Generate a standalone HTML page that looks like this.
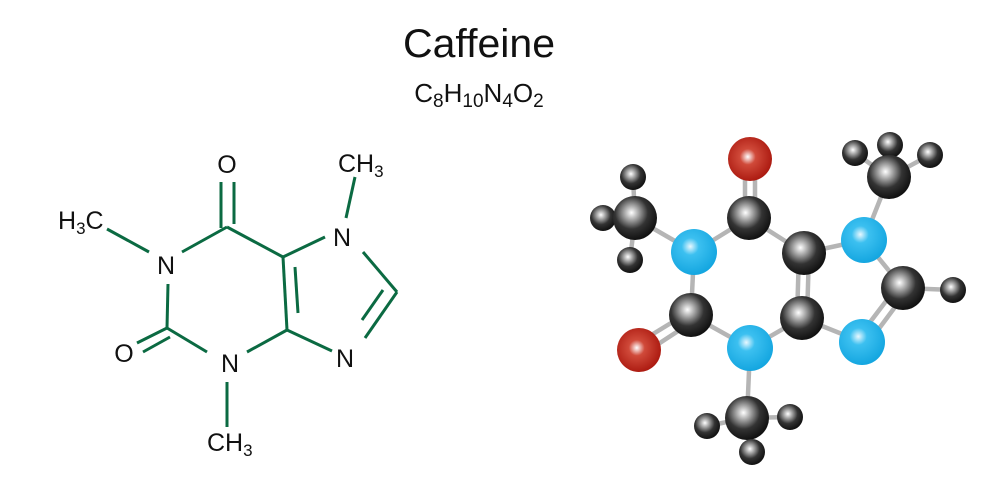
<!DOCTYPE html>
<html><head><meta charset="utf-8"><style>
html,body{margin:0;padding:0;background:#fff;width:1000px;height:500px;overflow:hidden}
svg{display:block}
text{font-family:"Liberation Sans",sans-serif;fill:#111}
</style></head><body>
<svg width="1000" height="500" viewBox="0 0 1000 500" xmlns="http://www.w3.org/2000/svg">
<defs>
<radialGradient id="gC" cx="0.42" cy="0.38" r="0.62"><stop offset="0" stop-color="#fff"/><stop offset="0.25" stop-color="#aaa"/><stop offset="0.6" stop-color="#333"/><stop offset="1" stop-color="#111"/></radialGradient>
<radialGradient id="gN" cx="0.42" cy="0.38" r="0.62"><stop offset="0" stop-color="#e8f8ff"/><stop offset="0.3" stop-color="#3cc0f0"/><stop offset="1" stop-color="#14a6e0"/></radialGradient>
<radialGradient id="gO" cx="0.45" cy="0.45" r="0.6"><stop offset="0" stop-color="#fff"/><stop offset="0.3" stop-color="#d04a3a"/><stop offset="1" stop-color="#a8150c"/></radialGradient>
</defs>
<text x="479" y="57" font-size="40" text-anchor="middle" textLength="152" lengthAdjust="spacingAndGlyphs">Caffeine</text>
<text x="479" y="102" font-size="26" text-anchor="middle">C<tspan font-size="19" dy="5">8</tspan><tspan dy="-5">H</tspan><tspan font-size="19" dy="5">10</tspan><tspan dy="-5">N</tspan><tspan font-size="19" dy="5">4</tspan><tspan dy="-5">O</tspan><tspan font-size="19" dy="5">2</tspan></text>

<g stroke="#0b6a42" stroke-width="3" fill="none" stroke-linecap="butt">
<line x1="221" y1="182" x2="221" y2="228"/><line x1="234" y1="182" x2="234" y2="224"/>
<line x1="107" y1="229" x2="149" y2="252"/>
<line x1="182" y1="252" x2="227" y2="227"/>
<line x1="227" y1="227" x2="283" y2="257"/>
<line x1="283" y1="257" x2="325" y2="237"/>
<line x1="346" y1="218" x2="355" y2="177"/>
<line x1="363" y1="252" x2="397" y2="292"/>
<line x1="397" y1="292" x2="365" y2="338"/><line x1="383" y1="290" x2="362" y2="320"/>
<line x1="287" y1="330" x2="332" y2="351"/>
<line x1="283" y1="257" x2="287" y2="330"/><line x1="295" y1="267" x2="298" y2="313"/>
<line x1="287" y1="330" x2="247" y2="352"/>
<line x1="227" y1="382" x2="227" y2="427"/>
<line x1="167" y1="328" x2="207" y2="352"/>
<line x1="168" y1="284" x2="167" y2="328"/>
<line x1="167" y1="328" x2="137" y2="343"/><line x1="143" y1="352" x2="170" y2="337"/>
</g>
<g font-size="25">
<text x="227" y="173" text-anchor="middle">O</text>
<text x="166" y="274" text-anchor="middle">N</text>
<text x="342" y="246" text-anchor="middle">N</text>
<text x="345" y="367" text-anchor="middle">N</text>
<text x="230" y="372" text-anchor="middle">N</text>
<text x="124" y="362" text-anchor="middle">O</text>
<text x="58" y="229">H<tspan font-size="17" dy="5">3</tspan><tspan dy="-5">C</tspan></text>
<text x="338" y="172">CH<tspan font-size="17" dy="5">3</tspan></text>
<text x="207" y="451">CH<tspan font-size="17" dy="5">3</tspan></text>
</g>

<g id="bonds" stroke-linecap="round">
<g stroke="#b5b5b5" stroke-width="4.5">
<line x1="745" y1="160" x2="745" y2="218"/><line x1="755" y1="160" x2="755" y2="218"/>
<line x1="635" y1="218" x2="633" y2="177"/><line x1="635" y1="218" x2="603" y2="218"/><line x1="635" y1="218" x2="630" y2="260"/>
<line x1="635" y1="218" x2="694" y2="252"/><line x1="694" y1="252" x2="749" y2="218"/>
<line x1="749" y1="218" x2="804" y2="253"/><line x1="694" y1="252" x2="691" y2="315"/>
<line x1="689" y1="312" x2="635" y2="345"/><line x1="695" y1="320" x2="643" y2="354"/>
<line x1="691" y1="315" x2="750" y2="348"/><line x1="750" y1="348" x2="802" y2="318"/>
<line x1="750" y1="348" x2="747" y2="418"/>
<line x1="747" y1="418" x2="707" y2="426"/><line x1="747" y1="418" x2="790" y2="417"/><line x1="747" y1="418" x2="752" y2="452"/>
<line x1="799" y1="253" x2="797" y2="318"/><line x1="809" y1="253" x2="807" y2="318"/>
<line x1="804" y1="253" x2="864" y2="240"/><line x1="802" y1="318" x2="862" y2="342"/>
<line x1="864" y1="240" x2="889" y2="177"/><line x1="864" y1="240" x2="903" y2="288"/>
<line x1="899" y1="284" x2="858" y2="338"/><line x1="907" y1="291" x2="866" y2="346"/>
<line x1="903" y1="288" x2="953" y2="290"/>
<line x1="889" y1="177" x2="855" y2="153"/><line x1="889" y1="177" x2="890" y2="145"/><line x1="889" y1="177" x2="930" y2="155"/>
</g>
</g>
<g>
<circle cx="633" cy="177" r="13" fill="url(#gC)"/><circle cx="603" cy="218" r="13" fill="url(#gC)"/><circle cx="630" cy="260" r="13" fill="url(#gC)"/>
<circle cx="855" cy="153" r="13" fill="url(#gC)"/><circle cx="890" cy="145" r="13" fill="url(#gC)"/><circle cx="930" cy="155" r="13" fill="url(#gC)"/>
<circle cx="953" cy="290" r="13" fill="url(#gC)"/>
<circle cx="707" cy="426" r="13" fill="url(#gC)"/><circle cx="790" cy="417" r="13" fill="url(#gC)"/>
<circle cx="750" cy="159" r="22" fill="url(#gO)"/>
<circle cx="639" cy="350" r="22" fill="url(#gO)"/>
<circle cx="635" cy="218" r="22" fill="url(#gC)"/>
<circle cx="749" cy="218" r="22" fill="url(#gC)"/>
<circle cx="694" cy="252" r="23" fill="url(#gN)"/>
<circle cx="691" cy="315" r="22" fill="url(#gC)"/>
<circle cx="750" cy="348" r="23" fill="url(#gN)"/>
<circle cx="747" cy="418" r="22" fill="url(#gC)"/>
<circle cx="752" cy="452" r="13" fill="url(#gC)"/>
<circle cx="804" cy="253" r="22" fill="url(#gC)"/>
<circle cx="802" cy="318" r="22" fill="url(#gC)"/>
<circle cx="889" cy="177" r="22" fill="url(#gC)"/>
<circle cx="864" cy="240" r="23" fill="url(#gN)"/>
<circle cx="903" cy="288" r="22" fill="url(#gC)"/>
<circle cx="862" cy="342" r="23" fill="url(#gN)"/>
</g>
</svg>
</body></html>
